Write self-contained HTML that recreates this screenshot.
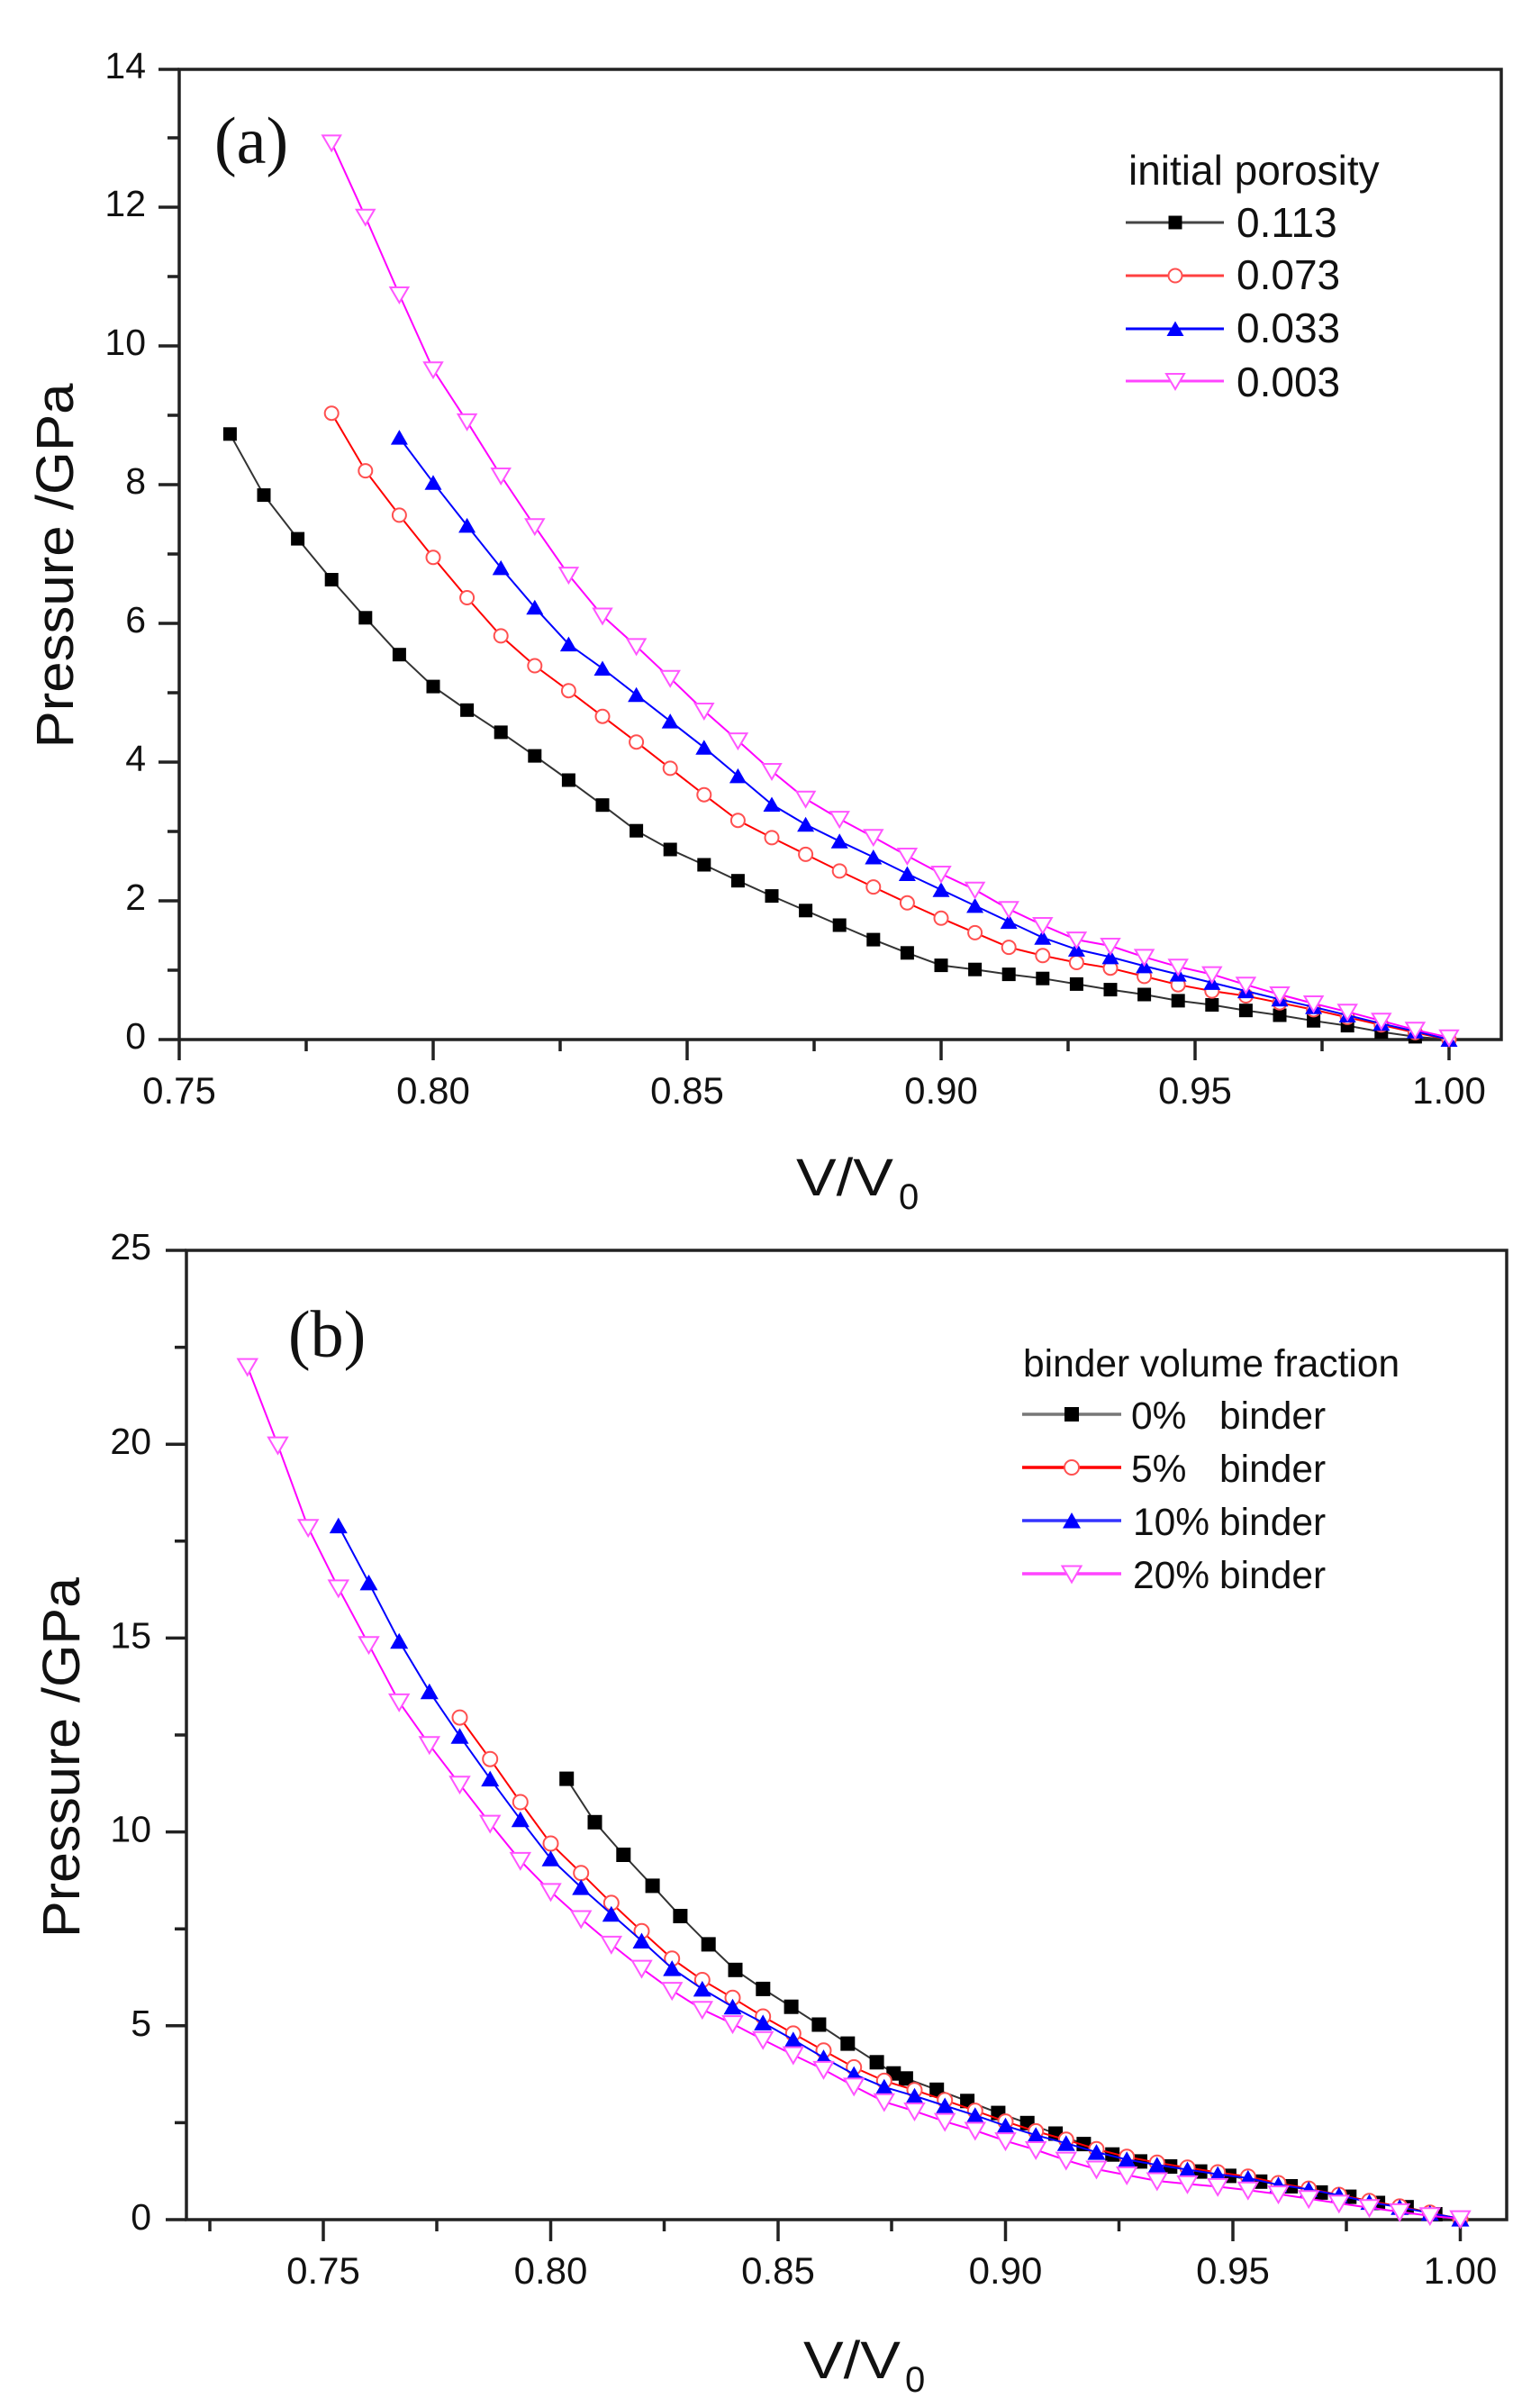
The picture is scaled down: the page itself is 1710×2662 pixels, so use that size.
<!DOCTYPE html>
<html>
<head>
<meta charset="utf-8">
<style>
html,body{margin:0;padding:0;background:#fff;}
svg{display:block;}
text{font-family:"Liberation Sans",Arial,sans-serif;fill:#111;}
.serif{font-family:"Liberation Serif","Times New Roman",serif;}
</style>
</head>
<body>
<svg width="1710" height="2662" viewBox="0 0 1710 2662" xmlns="http://www.w3.org/2000/svg">
<defs>
  <marker id="sqA" markerUnits="userSpaceOnUse" markerWidth="24" markerHeight="24" viewBox="-12 -12 24 24" refX="0" refY="0" overflow="visible">
    <rect x="-7.5" y="-7.5" width="15" height="15" fill="#000"/>
  </marker>
  <marker id="ciA" markerUnits="userSpaceOnUse" markerWidth="24" markerHeight="24" viewBox="-12 -12 24 24" refX="0" refY="0" overflow="visible">
    <circle r="7.5" fill="#fff" stroke="#ff5050" stroke-width="2"/>
  </marker>
  <marker id="tuA" markerUnits="userSpaceOnUse" markerWidth="24" markerHeight="24" viewBox="-12 -12 24 24" refX="0" refY="0" overflow="visible">
    <polygon points="0,-8.5 9.5,8 -9.5,8" fill="#0000ff"/>
  </marker>
  <marker id="tdA" markerUnits="userSpaceOnUse" markerWidth="24" markerHeight="24" viewBox="-12 -12 24 24" refX="0" refY="0" overflow="visible">
    <polygon points="-10,-8 10,-8 0,9" fill="#fff" stroke="#ff55ff" stroke-width="2"/>
  </marker>
  <marker id="sqB" markerUnits="userSpaceOnUse" markerWidth="24" markerHeight="24" viewBox="-12 -12 24 24" refX="0" refY="0" overflow="visible">
    <rect x="-8" y="-8" width="16" height="16" fill="#000"/>
  </marker>
  <marker id="ciB" markerUnits="userSpaceOnUse" markerWidth="24" markerHeight="24" viewBox="-12 -12 24 24" refX="0" refY="0" overflow="visible">
    <circle r="8" fill="#fff" stroke="#ff5050" stroke-width="2"/>
  </marker>
  <marker id="tuB" markerUnits="userSpaceOnUse" markerWidth="24" markerHeight="24" viewBox="-12 -12 24 24" refX="0" refY="0" overflow="visible">
    <polygon points="0,-9 10,8.5 -10,8.5" fill="#0000ff"/>
  </marker>
  <marker id="tdB" markerUnits="userSpaceOnUse" markerWidth="24" markerHeight="24" viewBox="-12 -12 24 24" refX="0" refY="0" overflow="visible">
    <polygon points="-10.5,-8.5 10.5,-8.5 0,9.5" fill="#fff" stroke="#ff55ff" stroke-width="2"/>
  </marker>
</defs>

<!-- ================= PANEL (a) ================= -->
<g stroke="#222" stroke-width="3.5" fill="none">
  <rect x="199" y="77" width="1468" height="1077"/>
  <!-- y major ticks -->
  <path d="M176 1154H199 M176 1000H199 M176 846H199 M176 692H199 M176 538H199 M176 384H199 M176 230H199 M176 77H199"/>
  <!-- y minor ticks -->
  <path d="M186 1077H199 M186 923H199 M186 769H199 M186 615H199 M186 461H199 M186 307H199 M186 153H199"/>
  <!-- x major ticks -->
  <path d="M199 1154V1177 M481 1154V1177 M763 1154V1177 M1045 1154V1177 M1327 1154V1177 M1609 1154V1177"/>
  <!-- x minor ticks -->
  <path d="M340 1154V1167 M622 1154V1167 M904 1154V1167 M1186 1154V1167 M1468 1154V1167"/>
</g>
<g font-size="41" text-anchor="end">
  <text x="162" y="1164">0</text>
  <text x="162" y="1010">2</text>
  <text x="162" y="856">4</text>
  <text x="162" y="702">6</text>
  <text x="162" y="548">8</text>
  <text x="162" y="394">10</text>
  <text x="162" y="240">12</text>
  <text x="162" y="87">14</text>
</g>
<g font-size="42" text-anchor="middle">
  <text x="199" y="1225">0.75</text>
  <text x="481" y="1225">0.80</text>
  <text x="763" y="1225">0.85</text>
  <text x="1045" y="1225">0.90</text>
  <text x="1327" y="1225">0.95</text>
  <text x="1609" y="1225">1.00</text>
</g>
<text transform="translate(81,628) rotate(-90)" text-anchor="middle" font-size="58" textLength="405" lengthAdjust="spacingAndGlyphs">Pressure /GPa</text>
<text x="884" y="1327" font-size="58" textLength="108" lengthAdjust="spacingAndGlyphs">V/V</text>
<text x="998" y="1342" font-size="40">0</text>
<text class="serif" x="238" y="181" font-size="74">(a)</text>

<!-- series (a) -->
<polyline fill="none" stroke="#333" stroke-width="2" marker-start="url(#sqA)" marker-mid="url(#sqA)" marker-end="url(#sqA)"
 points="255.4,481.8 293,549.6 330.6,598.1 368.2,643.5 405.8,685.8 443.4,726.7 481,762.1 518.6,788.3 556.2,812.9 593.8,839.1 631.4,866 669,893.7 706.6,922.2 744.2,943 781.8,960 819.4,977.7 857,994.6 894.6,1010.8 932.2,1027 969.8,1043.1 1007.4,1057.8 1045,1071.6 1082.6,1076.2 1120.2,1081.6 1157.8,1086.2 1195.4,1092.4 1233,1098.6 1270.6,1104 1308.2,1110.9 1345.8,1115.5 1383.4,1121.7 1421,1127 1458.6,1133.2 1496.2,1138.6 1533.8,1145.5 1571.4,1150.9 1609,1154"/>
<polyline fill="none" stroke="#ff0000" stroke-width="2" marker-start="url(#ciA)" marker-mid="url(#ciA)" marker-end="url(#ciA)"
 points="368.2,458.7 405.8,522.6 443.4,571.9 481,618.8 518.6,663.5 556.2,705.9 593.8,739 631.4,766.7 669,795.2 706.6,823.7 744.2,852.9 781.8,882.2 819.4,910.7 857,929.9 894.6,948.4 932.2,966.9 969.8,984.6 1007.4,1002.3 1045,1019.3 1082.6,1035.4 1120.2,1051.6 1157.8,1060.8 1195.4,1068.5 1233,1074.7 1270.6,1083.9 1308.2,1093.2 1345.8,1100.1 1383.4,1105.5 1421,1113.2 1458.6,1120.9 1496.2,1129.4 1533.8,1137.8 1571.4,1146.3 1609,1154"/>
<polyline fill="none" stroke="#0000ff" stroke-width="2" marker-start="url(#tuA)" marker-mid="url(#tuA)" marker-end="url(#tuA)"
 points="443.4,485.6 481,535.7 518.6,583.4 556.2,630.4 593.8,674.3 631.4,715.1 669,742 706.6,771.3 744.2,800.6 781.8,829.8 819.4,861.4 857,893 894.6,915.3 932.2,933.8 969.8,951.5 1007.4,970 1045,987.7 1082.6,1005.4 1120.2,1023.1 1157.8,1040.8 1195.4,1053.9 1233,1062.4 1270.6,1072.4 1308.2,1081.6 1345.8,1090.9 1383.4,1100.1 1421,1109.3 1458.6,1117.8 1496.2,1127 1533.8,1136.3 1571.4,1144.8 1609,1154"/>
<polyline fill="none" stroke="#ff00ff" stroke-width="2" marker-start="url(#tdA)" marker-mid="url(#tdA)" marker-end="url(#tdA)"
 points="368.2,158.4 405.8,240.8 443.4,327 481,410.2 518.6,467.9 556.2,528 593.8,584.2 631.4,638.1 669,683.5 706.6,717.4 744.2,752.8 781.8,789 819.4,822.1 857,856 894.6,886.8 932.2,909.1 969.8,929.2 1007.4,950 1045,970 1082.6,987.7 1120.2,1009.2 1157.8,1027 1195.4,1043.1 1233,1050 1270.6,1062.4 1308.2,1073.2 1345.8,1081.6 1383.4,1093.2 1421,1104 1458.6,1114 1496.2,1123.2 1533.8,1133.2 1571.4,1143.2 1609,1151.7"/>

<!-- legend (a) -->
<text x="1253" y="205" font-size="46">initial porosity</text>
<g stroke-width="3">
  <line x1="1250" y1="247" x2="1359" y2="247" stroke="#444"/>
  <line x1="1250" y1="306" x2="1359" y2="306" stroke="#ff4040"/>
  <line x1="1250" y1="365" x2="1359" y2="365" stroke="#0000ff"/>
  <line x1="1250" y1="423" x2="1359" y2="423" stroke="#ff44ff"/>
</g>
<rect x="1297.5" y="239.5" width="15" height="15" fill="#000"/>
<circle cx="1305" cy="306" r="7.5" fill="#fff" stroke="#ff5050" stroke-width="2"/>
<polygon points="1305,356.5 1314.5,373 1295.5,373" fill="#0000ff"/>
<polygon points="1295,415 1315,415 1305,432" fill="#fff" stroke="#ff55ff" stroke-width="2"/>
<g font-size="46">
  <text x="1373" y="263">0.113</text>
  <text x="1373" y="321">0.073</text>
  <text x="1373" y="380">0.033</text>
  <text x="1373" y="440">0.003</text>
</g>

<!-- ================= PANEL (b) ================= -->
<g stroke="#222" stroke-width="3.5" fill="none">
  <rect x="207" y="1388" width="1466" height="1076"/>
  <path d="M184 2464H207 M184 2248.8H207 M184 2033.6H207 M184 1818.4H207 M184 1603.2H207 M184 1388H207"/>
  <path d="M194 2356.4H207 M194 2141.2H207 M194 1926H207 M194 1710.8H207 M194 1495.6H207"/>
  <path d="M359 2464V2488 M611.5 2464V2488 M864 2464V2488 M1116.5 2464V2488 M1369 2464V2488 M1621.5 2464V2488"/>
  <path d="M233 2464V2477 M485 2464V2477 M737.5 2464V2477 M990 2464V2477 M1242.5 2464V2477 M1495 2464V2477"/>
</g>
<g font-size="41" text-anchor="end">
  <text x="168" y="2475">0</text>
  <text x="168" y="2259.8">5</text>
  <text x="168" y="2044.6">10</text>
  <text x="168" y="1829.4">15</text>
  <text x="168" y="1614.2">20</text>
  <text x="168" y="1398">25</text>
</g>
<g font-size="42" text-anchor="middle">
  <text x="359" y="2535">0.75</text>
  <text x="611.5" y="2535">0.80</text>
  <text x="864" y="2535">0.85</text>
  <text x="1116.5" y="2535">0.90</text>
  <text x="1369" y="2535">0.95</text>
  <text x="1621.5" y="2535">1.00</text>
</g>
<text transform="translate(88,1951) rotate(-90)" text-anchor="middle" font-size="58" textLength="400" lengthAdjust="spacingAndGlyphs">Pressure /GPa</text>
<text x="892" y="2640" font-size="58" textLength="108" lengthAdjust="spacingAndGlyphs">V/V</text>
<text x="1005" y="2655" font-size="40">0</text>
<text class="serif" x="320" y="1506" font-size="74">(b)</text>

<!-- series (b) -->
<polyline fill="none" stroke="#333" stroke-width="2" marker-start="url(#sqB)" marker-mid="url(#sqB)" marker-end="url(#sqB)"
 points="629.2,1974.6 660.5,2022.8 692.3,2059 724.6,2093.4 755.4,2127 786.7,2158.4 816.5,2186.8 847.3,2207.9 878.6,2227.7 909.4,2247.5 941.3,2268.6 973.6,2289.3 992.3,2301.7 1005.9,2307.3 1040.2,2319.8 1074.1,2332.3 1108.4,2345.6 1140.7,2356.8 1172.1,2368.5 1203.4,2380.1 1235.2,2391.7 1266,2399.4 1299.3,2405 1332.6,2410.6 1364.9,2415.4 1399.3,2421.8 1433.1,2427 1466.5,2433.9 1498.3,2438.6 1530.1,2445.5 1561.9,2450.2 1593.7,2458 1621.5,2463.1"/>
<polyline fill="none" stroke="#ff0000" stroke-width="2" marker-start="url(#ciB)" marker-mid="url(#ciB)" marker-end="url(#ciB)"
 points="510.5,1906.6 544.2,1952.7 577.8,2000.5 611.5,2046.5 645.2,2079.2 678.8,2112.4 712.5,2143.8 746.2,2174.3 779.8,2198 813.5,2217.8 847.2,2238.5 880.8,2257.4 914.5,2276.3 948.2,2294.9 981.8,2309.9 1015.5,2320.2 1049.2,2331.4 1082.8,2343.1 1116.5,2355.1 1150.2,2365.9 1183.8,2375.3 1217.5,2385.7 1251.2,2394.3 1284.8,2400.7 1318.5,2406.3 1352.2,2411.5 1385.8,2416.2 1419.5,2423.5 1453.2,2429.6 1486.8,2436.5 1520.5,2443.3 1554.2,2449.4 1587.8,2456.3 1621.5,2463.1"/>
<polyline fill="none" stroke="#0000ff" stroke-width="2" marker-start="url(#tuB)" marker-mid="url(#tuB)" marker-end="url(#tuB)"
 points="375.8,1693.6 409.5,1756.9 443.2,1821.8 476.8,1877.8 510.5,1927.3 544.2,1974.6 577.8,2019.8 611.5,2063.3 645.2,2095.1 678.8,2124.8 712.5,2154.5 746.2,2185.1 779.8,2207.9 813.5,2227.7 847.2,2245.4 880.8,2264.3 914.5,2284.1 948.2,2302.6 981.8,2316.8 1015.5,2326.7 1049.2,2337.5 1082.8,2348.2 1116.5,2359.8 1150.2,2370.2 1183.8,2379.2 1217.5,2389.1 1251.2,2397.3 1284.8,2403.3 1318.5,2408.5 1352.2,2413.6 1385.8,2417.9 1419.5,2425.3 1453.2,2430.4 1486.8,2436.9 1520.5,2444.6 1554.2,2450.2 1587.8,2456.7 1621.5,2463.1"/>
<polyline fill="none" stroke="#ff00ff" stroke-width="2" marker-start="url(#tdB)" marker-mid="url(#tdB)" marker-end="url(#tdB)"
 points="274.8,1517.1 308.5,1604.1 342.2,1695.7 375.8,1762.9 409.5,1825.7 443.2,1889.4 476.8,1936.8 510.5,1980.7 544.2,2024.1 577.8,2065.4 611.5,2099.9 645.2,2130 678.8,2158.4 712.5,2185.1 746.2,2209.6 779.8,2230.7 813.5,2246.6 847.2,2264.3 880.8,2281.1 914.5,2297.4 948.2,2315.9 981.8,2333.2 1015.5,2343.5 1049.2,2355.1 1082.8,2365 1116.5,2376.6 1150.2,2386.5 1183.8,2398.1 1217.5,2408 1251.2,2414.5 1284.8,2421 1318.5,2424.4 1352.2,2427.4 1385.8,2431.3 1419.5,2435.6 1453.2,2440.8 1486.8,2445.9 1520.5,2450.7 1554.2,2455.4 1587.8,2459.7 1621.5,2463.1"/>

<!-- legend (b) -->
<text x="1136" y="1528" font-size="42.5">binder volume fraction</text>
<g stroke-width="3.5">
  <line x1="1135" y1="1570" x2="1245" y2="1570" stroke="#777"/>
  <line x1="1135" y1="1629" x2="1245" y2="1629" stroke="#ff0000"/>
  <line x1="1135" y1="1688" x2="1245" y2="1688" stroke="#3333ff"/>
  <line x1="1135" y1="1747" x2="1245" y2="1747" stroke="#ff44ff"/>
</g>
<rect x="1182" y="1562" width="16" height="16" fill="#000"/>
<circle cx="1190" cy="1629" r="8" fill="#fff" stroke="#ff5050" stroke-width="2"/>
<polygon points="1190,1679 1200,1696.5 1180,1696.5" fill="#0000ff"/>
<polygon points="1179.5,1738.5 1200.5,1738.5 1190,1756.5" fill="#fff" stroke="#ff55ff" stroke-width="2"/>
<g font-size="42.5">
  <text x="1256" y="1586">0%</text><text x="1354" y="1586">binder</text>
  <text x="1256" y="1645">5%</text><text x="1354" y="1645">binder</text>
  <text x="1258" y="1704">10%</text><text x="1354" y="1704">binder</text>
  <text x="1258" y="1763">20%</text><text x="1354" y="1763">binder</text>
</g>
</svg>
</body>
</html>
